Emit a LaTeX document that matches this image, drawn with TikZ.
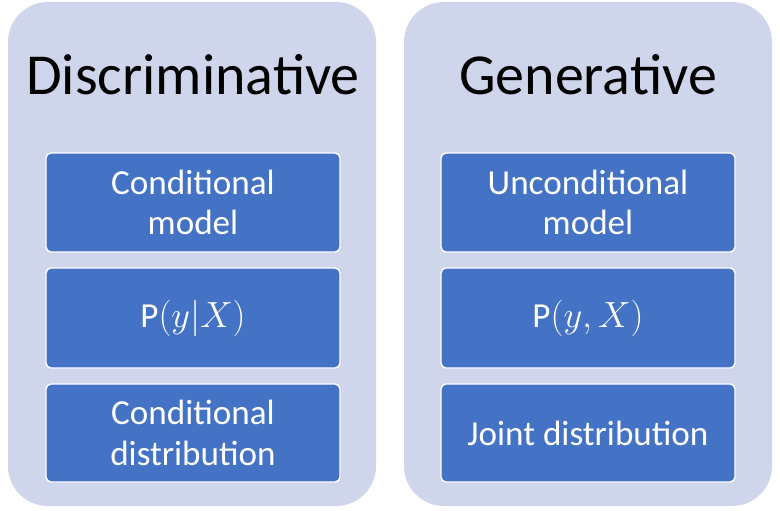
\documentclass[tikz,border=0pt]{standalone}
\usepackage{fontspec}
\setmainfont{Carlito}
\begin{document}
\begin{tikzpicture}[x=0.02cm,y=-0.02cm,
  panel/.style={fill=panelc,rounded corners=0.8cm},
  bx/.style={fill=boxc,draw=white,line width=0.8pt,rounded corners=0.1cm,text=white,font=\fontsize{20}{23}\selectfont,align=center},
  ttl/.style={font=\fontsize{33}{38}\selectfont}]
\definecolor{panelc}{HTML}{CFD5EA}
\definecolor{boxc}{HTML}{4472C4}
\useasboundingbox (0,0) rectangle (780,510);
\fill[panel] (8,2) rectangle (376,506);
\fill[panel] (404,2) rectangle (772,506);
\node[ttl] (t1) at (193,75) {Discriminative};
\node[ttl] (t2) at (588,75) {Generative};
\draw[bx] (46,153) rectangle (340,252);
\node[bx,draw=none,fill=none] (a1) at (193,202.5) {Conditional\\model};
\draw[bx] (46,268) rectangle (340,368);
\node[bx,draw=none,fill=none] (a2) at (193,318) {$\mathrm{P}(y|X)$};
\draw[bx] (46,384) rectangle (340,482);
\node[bx,draw=none,fill=none] (a3) at (193,433) {Conditional\\distribution};
\draw[bx] (441,153) rectangle (735,252);
\node[bx,draw=none,fill=none] (b1) at (588,202.5) {Unconditional\\model};
\draw[bx] (441,268) rectangle (735,368);
\node[bx,draw=none,fill=none] (b2) at (588,318) {$\mathrm{P}(y,X)$};
\draw[bx] (441,384) rectangle (735,482);
\node[bx,draw=none,fill=none] (b3) at (588,433) {Joint distribution};
\end{tikzpicture}
\end{document}
